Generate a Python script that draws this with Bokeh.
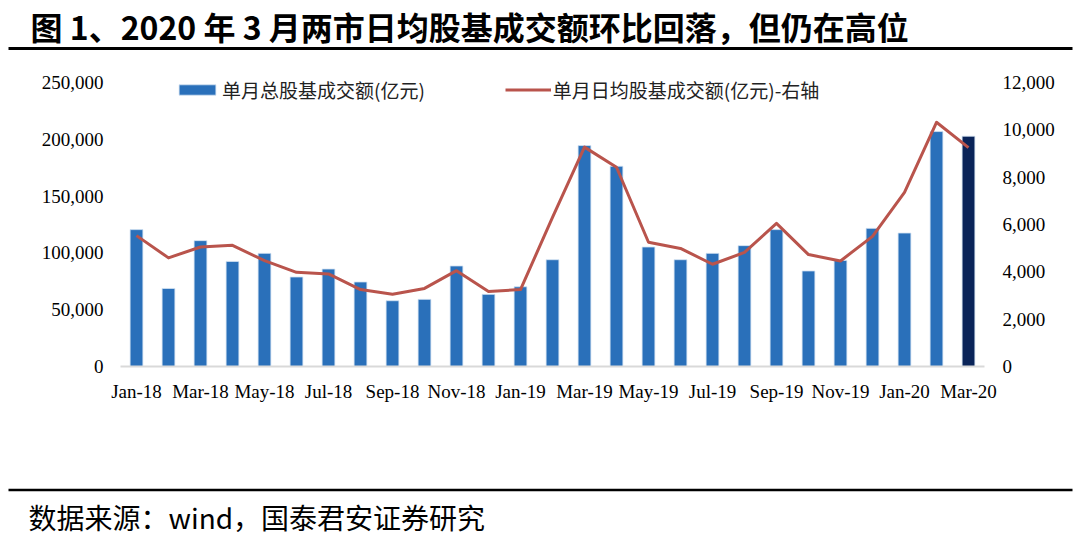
from bokeh.plotting import figure
from bokeh.models import (Range1d, LinearAxis, FixedTicker, NumeralTickFormatter,
                          Legend, LegendItem, Label, BoxAnnotation, ColumnDataSource)
from bokeh.embed import file_html
from bokeh.resources import INLINE

# ---------------- data ----------------
months = ["Jan-18", "Feb-18", "Mar-18", "Apr-18", "May-18", "Jun-18", "Jul-18", "Aug-18",
          "Sep-18", "Oct-18", "Nov-18", "Dec-18", "Jan-19", "Feb-19", "Mar-19", "Apr-19",
          "May-19", "Jun-19", "Jul-19", "Aug-19", "Sep-19", "Oct-19", "Nov-19", "Dec-19",
          "Jan-20", "Feb-20", "Mar-20"]
# 单月总股基成交额(亿元) - left axis
total_turnover = [120500, 68700, 110800, 92500, 99600, 78800, 85800, 74400,
                  57900, 59100, 88500, 63500, 70200, 94000, 194500, 176300,
                  105200, 94000, 99600, 106400, 120500, 84100, 93400, 121600,
                  117500, 206800, 202700]
# 单月日均股基成交额(亿元) - right axis
daily_avg = [5530, 4590, 5050, 5120, 4470, 3980, 3910, 3250,
             3050, 3300, 4050, 3170, 3250, 6300, 9270, 8420,
             5250, 4990, 4320, 4820, 6050, 4730, 4460, 5500,
             7360, 10320, 9250]
left_ticks = [0, 50000, 100000, 150000, 200000, 250000]
right_ticks = [0, 2000, 4000, 6000, 8000, 10000, 12000]

title_text = "图 1、2020 年 3 月两市日均股基成交额环比回落，但仍在高位"
source_text = "数据来源：wind，国泰君安证券研究"
bar_label = "单月总股基成交额(亿元)"
line_label = "单月日均股基成交额(亿元)-右轴"

BLUE = "#2A70BA"
NAVY = "#0A2459"
RED = "#B9544C"
CJK = "Noto Sans CJK SC"
SERIF = "Liberation Serif"

n = len(months)
xs = list(range(n))
bar_colors = [BLUE] * (n - 1) + [NAVY]
src = ColumnDataSource(dict(x=xs, total=total_turnover, avg=daily_avg, color=bar_colors))

W = 1080
HEADER_H, MAIN_H, FOOTER_H = 52, 434, 53

# ---------------- header ----------------
header = figure(width=W, height=HEADER_H, x_range=Range1d(0, W), y_range=Range1d(HEADER_H, 0),
                toolbar_location=None, output_backend="svg", min_border=0,
                x_axis_location=None, y_axis_location=None)
header.grid.visible = False
header.outline_line_color = None
header.background_fill_alpha = 0
header.add_layout(Label(x=30, y=25, text=title_text, text_baseline="middle",
                        text_font=CJK, text_font_style="bold", text_font_size="32px",
                        text_color="black"))
header.add_layout(BoxAnnotation(left=8, right=1072, top=46.5, bottom=49.5,
                                fill_color="black", fill_alpha=1, line_color=None))

# ---------------- main chart ----------------
# frame: 294 px tall, the 250,000 / 12,000 tick sits 284 px above the baseline
pad = 294 / 284
p = figure(width=W, height=MAIN_H, x_range=Range1d(-0.5, n - 0.5),
           y_range=Range1d(0, left_ticks[-1] * pad),
           toolbar_location=None, output_backend="svg",
           min_border_left=120, min_border_right=96, min_border_top=20, min_border_bottom=120)
p.extra_y_ranges = {"right": Range1d(0, right_ticks[-1] * pad)}
p.grid.visible = False
p.outline_line_color = None

bars = p.vbar(x="x", top="total", width=0.4, source=src, fill_color="color",
              line_color="#d6e3f2", line_width=0.8)
line = p.line(x="x", y="avg", source=src, y_range_name="right", line_color=RED,
              line_width=3, line_join="round")

# x axis
xa = p.xaxis[0]
xa.ticker = FixedTicker(ticks=xs[::2])
xa.major_label_overrides = {i: months[i] for i in xs[::2]}
xa.axis_line_color = "#d9d9d9"
xa.axis_line_width = 2
xa.major_tick_line_color = None
xa.minor_tick_line_color = None
xa.major_tick_in = 0
xa.major_tick_out = 0
xa.major_label_standoff = 14
xa.major_label_text_font = SERIF
xa.major_label_text_font_size = "19px"
xa.major_label_text_color = "black"

# left axis
ya = p.yaxis[0]
ya.ticker = FixedTicker(ticks=left_ticks)
ya.formatter = NumeralTickFormatter(format="0,0")
ya.axis_line_color = None
ya.major_tick_line_color = None
ya.minor_tick_line_color = None
ya.major_tick_in = 0
ya.major_tick_out = 0
ya.major_label_standoff = 17
ya.major_label_text_font = SERIF
ya.major_label_text_font_size = "19px"
ya.major_label_text_color = "black"

# right axis
ra = LinearAxis(y_range_name="right", ticker=FixedTicker(ticks=right_ticks),
                formatter=NumeralTickFormatter(format="0,0"))
ra.axis_line_color = None
ra.major_tick_line_color = None
ra.minor_tick_line_color = None
ra.major_tick_in = 0
ra.major_tick_out = 0
ra.major_label_standoff = 18
ra.major_label_text_font = SERIF
ra.major_label_text_font_size = "19px"
ra.major_label_text_color = "black"
p.add_layout(ra, "right")

legend = Legend(items=[LegendItem(label=bar_label, renderers=[bars], index=0),
                       LegendItem(label=line_label, renderers=[line])],
                orientation="horizontal", location=(54, 263),
                glyph_width=46, glyph_height=13, label_standoff=2, spacing=80,
                padding=0, margin=0, border_line_color=None, background_fill_alpha=0,
                label_text_font=CJK, label_text_font_size="19px", label_text_color="#222222",
                label_height=20)
p.add_layout(legend)

# ---------------- footer ----------------
footer = figure(width=W, height=FOOTER_H, x_range=Range1d(0, W), y_range=Range1d(FOOTER_H, 0),
                toolbar_location=None, output_backend="svg", min_border=0,
                x_axis_location=None, y_axis_location=None)
footer.grid.visible = False
footer.outline_line_color = None
footer.background_fill_alpha = 0
footer.add_layout(BoxAnnotation(left=8, right=1072, top=2.3, bottom=4.8,
                                fill_color="black", fill_alpha=1, line_color=None))
footer.add_layout(Label(x=28, y=30, text=source_text, text_baseline="middle",
                        text_font=CJK, text_font_size="28px", text_color="black"))

# separate roots: no frame alignment between the three figures
open("out.html", "w").write(file_html([header, p, footer], INLINE))
